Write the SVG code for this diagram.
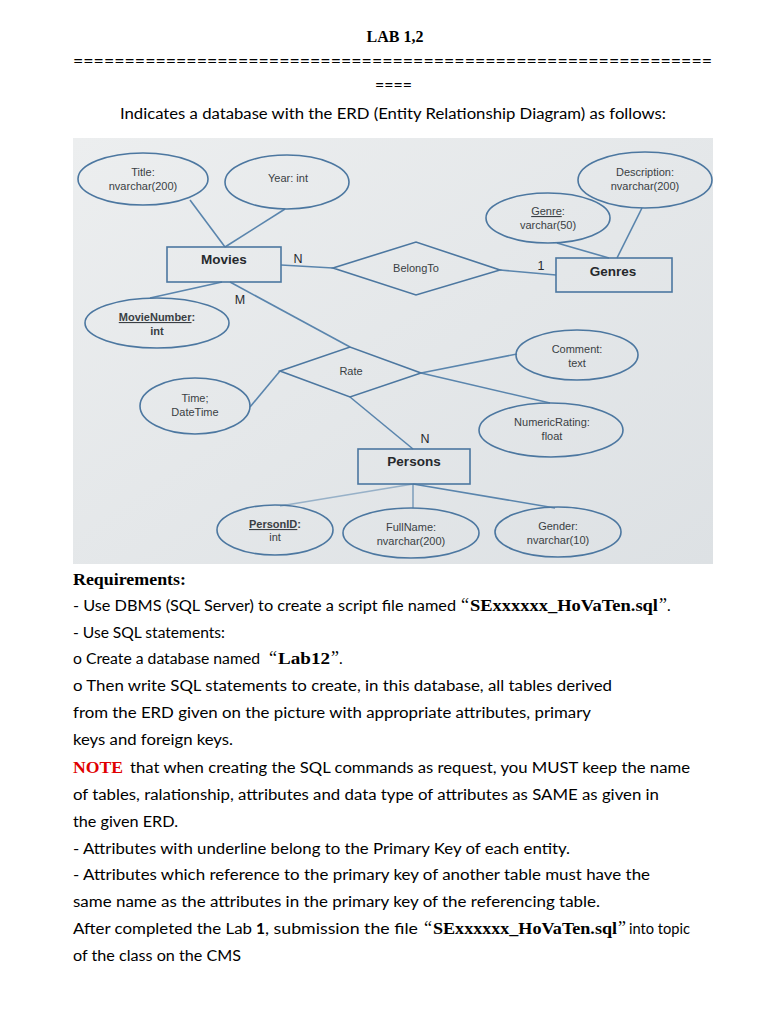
<svg xmlns="http://www.w3.org/2000/svg" width="768" height="1024" viewBox="0 0 768 1024">
<defs>
<linearGradient id="bg" x1="0" y1="0" x2="1" y2="1">
<stop offset="0" stop-color="#eceeef"/>
<stop offset="1" stop-color="#dde1e4"/>
</linearGradient>
<style>
.ln{stroke:#5a85ad;stroke-width:1.6;fill:none}
.sh{stroke:#4c77a0;stroke-width:1.6;fill:none}
.at{font-family:"Liberation Sans",Arial,sans-serif;font-size:11px;fill:#3a3f44;text-anchor:middle}
.en{font-family:"Liberation Sans",Arial,sans-serif;font-size:13.5px;font-weight:bold;fill:#26292c;text-anchor:middle}
.lb{font-family:"Liberation Sans",Arial,sans-serif;font-size:12.5px;fill:#26292c;text-anchor:middle}
.bd{font-family:Lato,"Liberation Sans",sans-serif;font-size:15.5px;fill:#000}
.sb{font-family:"Liberation Serif","Times New Roman",serif;font-weight:bold;font-size:17px}
.q{font-family:"Liberation Serif","Times New Roman",serif;font-size:18px}
.red{fill:#e00000}
</style>
</defs>
<rect width="768" height="1024" fill="#fff"/>
<text x="395" y="42" font-family="Liberation Serif,serif" font-weight="bold" font-size="16" text-anchor="middle">LAB 1,2</text>
<text x="73" y="67" class="bd" textLength="639" lengthAdjust="spacingAndGlyphs">==============================================================</text>
<text x="375" y="91" class="bd" textLength="37" lengthAdjust="spacingAndGlyphs">====</text>
<text x="120" y="119" class="bd" textLength="546" lengthAdjust="spacingAndGlyphs">Indicates a database with the ERD (Entity Relationship Diagram) as follows:</text>
<rect x="73" y="138" width="640" height="426" fill="url(#bg)"/>
<g id="connectors">
<line class="ln" x1="190" y1="200" x2="225" y2="247"/>
<line class="ln" x1="285" y1="209" x2="225" y2="247"/>
<line class="ln" x1="281" y1="265" x2="333" y2="268"/>
<line class="ln" x1="500" y1="270" x2="556" y2="275"/>
<line class="ln" x1="609" y1="258" x2="557" y2="243"/>
<line class="ln" x1="617" y1="258" x2="642" y2="208"/>
<line class="ln" x1="222" y1="282" x2="150" y2="298"/>
<line class="ln" x1="230" y1="282" x2="350" y2="347"/>
<line class="ln" x1="280" y1="371" x2="250" y2="407"/>
<line class="ln" x1="350" y1="397" x2="413" y2="449"/>
<line class="ln" x1="421" y1="373" x2="517" y2="354"/>
<line class="ln" x1="421" y1="373" x2="550" y2="403"/>
<line class="ln" x1="413" y1="484" x2="280" y2="506" stroke-opacity="0.55"/>
<line class="ln" x1="413" y1="484" x2="413" y2="508" stroke-opacity="0.7"/>
<line class="ln" x1="413" y1="484" x2="555" y2="508"/>
</g>
<g id="title"><ellipse class="sh" cx="143" cy="179" rx="65" ry="26"/><text class="at" x="143" y="176">Title:</text><text class="at" x="143" y="190">nvarchar(200)</text></g>
<g id="year"><ellipse class="sh" cx="287" cy="182" rx="62" ry="27"/><text class="at" x="288" y="182">Year: int</text></g>
<g id="movies"><rect class="sh" x="167" y="247" width="114" height="35"/><text class="en" x="224" y="264">Movies</text></g>
<g id="belongto"><polygon class="sh" points="333,268 416,242 500,270 416,295"/><text class="at" x="416" y="272">BelongTo</text></g>
<g id="genres"><rect class="sh" x="556" y="258" width="116" height="34"/><text class="en" x="613" y="276">Genres</text></g>
<g id="genre"><ellipse class="sh" cx="548" cy="218" rx="62" ry="25"/><text class="at" x="548" y="215"><tspan text-decoration="underline">Genre</tspan>:</text><text class="at" x="548" y="229">varchar(50)</text></g>
<g id="description"><ellipse class="sh" cx="645" cy="180" rx="67" ry="28"/><text class="at" x="645" y="176">Description:</text><text class="at" x="645" y="190">nvarchar(200)</text></g>
<g id="movienumber"><ellipse class="sh" cx="157" cy="323" rx="72" ry="25"/><text class="at" x="157" y="321" font-weight="bold"><tspan text-decoration="underline">MovieNumber</tspan>:</text><text class="at" x="157" y="335" font-weight="bold">int</text></g>
<g id="rate"><polygon class="sh" points="280,371 350,347 421,373 350,397"/><text class="at" x="351" y="375">Rate</text></g>
<g id="time"><ellipse class="sh" cx="195" cy="406" rx="55" ry="28"/><text class="at" x="195" y="402">Time;</text><text class="at" x="195" y="416">DateTime</text></g>
<g id="comment"><ellipse class="sh" cx="577" cy="355" rx="61" ry="25"/><text class="at" x="577" y="353">Comment:</text><text class="at" x="577" y="367">text</text></g>
<g id="numericrating"><ellipse class="sh" cx="551" cy="430" rx="72" ry="27"/><text class="at" x="552" y="426">NumericRating:</text><text class="at" x="552" y="440">float</text></g>
<g id="persons"><rect class="sh" x="358" y="449" width="112" height="35"/><text class="en" x="414" y="466">Persons</text></g>
<g id="personid"><ellipse class="sh" cx="275" cy="530" rx="58" ry="25"/><text class="at" x="275" y="528" font-weight="bold"><tspan text-decoration="underline">PersonID</tspan>:</text><text class="at" x="275" y="541">int</text></g>
<g id="fullname"><ellipse class="sh" cx="411" cy="533" rx="68" ry="25"/><text class="at" x="411" y="531">FullName:</text><text class="at" x="411" y="545">nvarchar(200)</text></g>
<g id="gender"><ellipse class="sh" cx="558" cy="532" rx="63" ry="25"/><text class="at" x="558" y="530">Gender:</text><text class="at" x="558" y="544">nvarchar(10)</text></g>
<g id="labels">
<text class="lb" x="298" y="263">N</text>
<text class="lb" x="541" y="270">1</text>
<text class="lb" x="240" y="304">M</text>
<text class="lb" x="425" y="443">N</text>
</g>
<text x="73" y="585" class="sb" font-size="16" textLength="113" lengthAdjust="spacingAndGlyphs">Requirements:</text>
<text y="611" class="bd"><tspan x="73" textLength="383" lengthAdjust="spacingAndGlyphs">- Use DBMS (SQL Server) to create a script file named</tspan><tspan x="461" class="q">“</tspan><tspan x="470" class="sb" textLength="188" lengthAdjust="spacingAndGlyphs">SExxxxxx_HoVaTen.sql</tspan><tspan x="659" class="q">”</tspan><tspan x="667">.</tspan></text>
<text y="638" class="bd" x="73" textLength="152" lengthAdjust="spacingAndGlyphs">- Use SQL statements:</text>
<text y="664" class="bd"><tspan x="73" textLength="187" lengthAdjust="spacingAndGlyphs">o Create a database named</tspan><tspan x="269" class="q">“</tspan><tspan x="278" class="sb" textLength="52" lengthAdjust="spacingAndGlyphs">Lab12</tspan><tspan x="331" class="q">”</tspan><tspan x="339">.</tspan></text>
<text y="691" class="bd" x="73" textLength="539" lengthAdjust="spacingAndGlyphs">o Then write SQL statements to create, in this database, all tables derived</text>
<text y="718" class="bd" x="73" textLength="518" lengthAdjust="spacingAndGlyphs">from the ERD given on the picture with appropriate attributes, primary</text>
<text y="745" class="bd" x="73" textLength="160" lengthAdjust="spacingAndGlyphs">keys and foreign keys.</text>
<text y="773" class="bd"><tspan x="73" class="sb red" textLength="50" lengthAdjust="spacingAndGlyphs">NOTE</tspan><tspan x="130" textLength="560" lengthAdjust="spacingAndGlyphs">that when creating the SQL commands as request, you MUST keep the name</tspan></text>
<text y="800" class="bd" x="73" textLength="586" lengthAdjust="spacingAndGlyphs">of tables, ralationship, attributes and data type of attributes as SAME as given in</text>
<text y="827" class="bd" x="73" textLength="105" lengthAdjust="spacingAndGlyphs">the given ERD.</text>
<text y="854" class="bd" x="73" textLength="497" lengthAdjust="spacingAndGlyphs">- Attributes with underline belong to the Primary Key of each entity.</text>
<text y="880" class="bd" x="73" textLength="577" lengthAdjust="spacingAndGlyphs">- Attributes which reference to the primary key of another table must have the</text>
<text y="907" class="bd" x="73" textLength="527" lengthAdjust="spacingAndGlyphs">same name as the attributes in the primary key of the referencing table.</text>
<text y="934" class="bd"><tspan x="73" textLength="179" lengthAdjust="spacingAndGlyphs">After completed the Lab</tspan><tspan x="256" font-weight="bold">1</tspan><tspan x="265" textLength="153" lengthAdjust="spacingAndGlyphs">, submission the file</tspan><tspan x="424" class="q">“</tspan><tspan x="433" class="sb" textLength="184" lengthAdjust="spacingAndGlyphs">SExxxxxx_HoVaTen.sql</tspan><tspan x="618" class="q">”</tspan><tspan x="629" textLength="61" lengthAdjust="spacingAndGlyphs">into topic</tspan></text>
<text y="961" class="bd" x="73" textLength="168" lengthAdjust="spacingAndGlyphs">of the class on the CMS</text>
</svg>
